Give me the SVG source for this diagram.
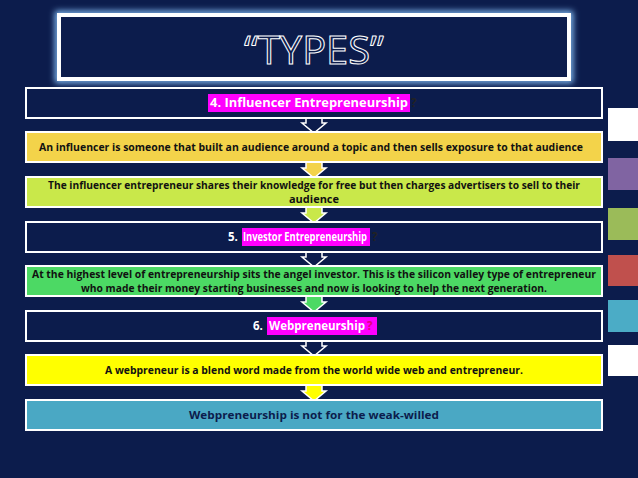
<svg xmlns="http://www.w3.org/2000/svg" width="638" height="478" viewBox="0 0 638 478">
<style>
.b{stroke:#fff;stroke-width:2}
.t{font-family:"Open Sans","Liberation Sans",sans-serif;font-weight:bold;text-anchor:middle;font-size:11px}
.s{font-family:"Open Sans","Liberation Sans",sans-serif;font-weight:bold;font-size:11.5px}
.w{fill:#fff}
.k{fill:#111}
.ar{stroke:#fff;stroke-width:1.5}
</style>
<defs>
<filter id="glow" x="-10%" y="-30%" width="120%" height="160%"><feGaussianBlur stdDeviation="3"/></filter>
</defs>
<rect width="638" height="478" fill="#0c1c4c"/>
<g id="title">
<rect x="58" y="14" width="512" height="66" fill="none" stroke="#8cc8ff" stroke-width="6" filter="url(#glow)"/>
<rect x="59" y="15" width="510" height="64" fill="#0c1c4c" stroke="#fff" stroke-width="4"/>
<text x="314" y="64" font-family="'Open Sans','Liberation Sans',sans-serif" font-size="38" text-anchor="middle" fill="none" stroke="#fff" stroke-width="1" textLength="140" lengthAdjust="spacingAndGlyphs">“TYPES”</text>
</g>
<g id="connectors">
<path class="ar" fill="#0c1c4c" d="M306 118 V123 H302 L314 133 L326 123 H322 V118 Z"/>
<path class="ar" fill="#f3d34a" d="M306 162 V168 H302 L314 178 L326 168 H322 V162 Z"/>
<path class="ar" fill="#c9e84a" d="M306 207 V213 H302 L314 223 L326 213 H322 V207 Z"/>
<path class="ar" fill="#0c1c4c" d="M306 252 V257 H302 L314 267 L326 257 H322 V252 Z"/>
<path class="ar" fill="#4cd964" d="M306 296 V302 H302 L314 312 L326 302 H322 V296 Z"/>
<path class="ar" fill="#0c1c4c" d="M306 341 V346 H302 L314 356 L326 346 H322 V341 Z"/>
<path class="ar" fill="#ffff00" d="M306 385 V391 H302 L314 401 L326 391 H322 V385 Z"/>
</g>
<g id="n1"><rect class="b" x="26" y="88" width="576" height="30" fill="#0c1c4c"/>
<rect x="208" y="94" width="202" height="18" fill="#ff00ff"/>
<text class="s w" x="210" y="107" textLength="198" lengthAdjust="spacingAndGlyphs">4. Influencer Entrepreneurship</text><text class="s" x="411" y="107" fill="#222">?</text></g>
<g id="n2"><rect class="b" x="26" y="132" width="576" height="30" fill="#f3d34a"/>
<text class="t k" x="311" y="151" textLength="544" lengthAdjust="spacingAndGlyphs">An influencer is someone that built an audience around a topic and then sells exposure to that audience</text></g>
<g id="n3"><rect class="b" x="26" y="177" width="576" height="30" fill="#c9e84a"/>
<text class="t k" x="314" y="189" textLength="532" lengthAdjust="spacingAndGlyphs">The influencer entrepreneur shares their knowledge for free but then charges advertisers to sell to their</text>
<text class="t k" x="314" y="203">audience</text></g>
<g id="n4"><rect class="b" x="26" y="222" width="576" height="30" fill="#0c1c4c"/>
<rect x="242" y="228" width="128" height="18" fill="#ff00ff"/>
<text class="s w" x="228" y="241">5.</text>
<text class="s w" x="243" y="241" textLength="124" lengthAdjust="spacingAndGlyphs">Investor Entrepreneurship</text><text class="s" x="372" y="241" fill="#222">?</text></g>
<g id="n5"><rect class="b" x="26" y="266" width="576" height="30" fill="#4cd964"/>
<text class="t k" x="314" y="278" textLength="564" lengthAdjust="spacingAndGlyphs">At the highest level of entrepreneurship sits the angel investor. This is the silicon valley type of entrepreneur</text>
<text class="t k" x="314" y="292" textLength="466" lengthAdjust="spacingAndGlyphs">who made their money starting businesses and now is looking to help the next generation.</text></g>
<g id="n6"><rect class="b" x="26" y="311" width="576" height="30" fill="#0c1c4c"/>
<rect x="267" y="317" width="110" height="18" fill="#ff00ff"/>
<text class="s w" x="253" y="330">6.</text>
<text class="s w" x="269" y="330" textLength="96" lengthAdjust="spacingAndGlyphs">Webpreneurship</text><text class="s" x="367" y="330" fill="#e6007e">?</text></g>
<g id="n7"><rect class="b" x="26" y="355" width="576" height="30" fill="#ffff00"/>
<text class="t k" x="314" y="374" textLength="418" lengthAdjust="spacingAndGlyphs">A webpreneur is a blend word made from the world wide web and entrepreneur.</text></g>
<g id="n8"><rect class="b" x="26" y="400" width="576" height="30" fill="#4aa8c4"/>
<text class="t" x="314" y="419" font-size="12.5" fill="#0c1c4c" textLength="250" lengthAdjust="spacingAndGlyphs">Webpreneurship is not for the weak-willed</text></g>
<g id="swatches">
<rect x="608" y="108" width="30" height="33" fill="#fff"/>
<rect x="608" y="158" width="30" height="32" fill="#8064a2"/>
<rect x="608" y="208" width="30" height="32" fill="#9bbb59"/>
<rect x="608" y="255" width="30" height="31" fill="#c0504d"/>
<rect x="608" y="300" width="30" height="32" fill="#4bacc6"/>
<rect x="608" y="345" width="30" height="31" fill="#fff"/>
</g>
</svg>
